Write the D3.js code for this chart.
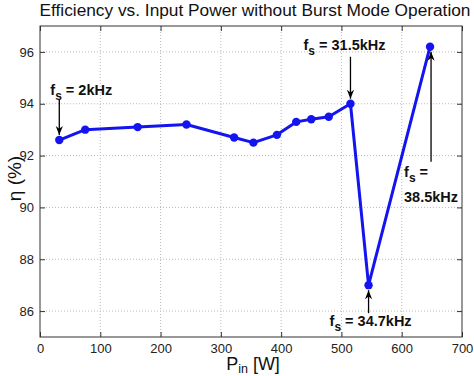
<!DOCTYPE html>
<html>
<head>
<meta charset="utf-8">
<script src="https://cdn.jsdelivr.net/npm/d3@7"></script>
<style>
  body { margin: 0; background: #fff; }
  svg text { font-family: "Liberation Sans", Arial, sans-serif; }
</style>
</head>
<body>
<div id="chart"></div>
<script>
// ── Data ────────────────────────────────────────
const P_IN = [32, 75, 162, 243, 322, 354, 393, 425, 450, 479, 515, 545, 647];
const ETA  = [92.6, 93.0, 93.1, 93.2, 92.7, 92.5, 92.8, 93.3, 93.4, 93.5, 94.0, 87.0, 96.2];
const X_TICKS = [0, 100, 200, 300, 400, 500, 600, 700];
const Y_TICKS = [86, 88, 90, 92, 94, 96];
// annotations: index of point, label frequency
const NOTES = [
  { i: 0,  f: "2kHz" },
  { i: 10, f: "31.5kHz" },
  { i: 11, f: "34.7kHz" },
  { i: 12, f: "38.5kHz" }
];

(function () {
  const W = 474, H = 376;
  const margin = { top: 26, right: 12, bottom: 39, left: 40 };
  const width  = W - margin.left - margin.right;
  const height = H - margin.top - margin.bottom;

  const svg = d3.select("#chart").append("svg")
    .attr("width", W).attr("height", H);

  const g = svg.append("g")
    .attr("transform", `translate(${margin.left},${margin.top})`);

  const x = d3.scaleLinear().domain([0, 700]).range([0, width]);
  const y = d3.scaleLinear().domain([85, 97]).range([height, 0]);

  // ── Grid (dotted) ─────────────────────────────
  g.append("g").selectAll("line").data(X_TICKS.slice(1, -1)).join("line")
    .attr("x1", d => x(d)).attr("x2", d => x(d))
    .attr("y1", 0).attr("y2", height)
    .attr("stroke", "#bbb").attr("stroke-dasharray", "1,2");
  g.append("g").selectAll("line").data(Y_TICKS).join("line")
    .attr("x1", 0).attr("x2", width)
    .attr("y1", d => y(d)).attr("y2", d => y(d))
    .attr("stroke", "#bbb").attr("stroke-dasharray", "1,2");

  // ── Axes (matlab-style inner ticks) ───────────
  const styleAxis = sel => {
    sel.select(".domain").remove();
    sel.selectAll(".tick line").attr("stroke", "#333");
    sel.selectAll("text").attr("font-size", "13px").attr("fill", "#222")
      .attr("font-family", "'Liberation Sans', Arial, sans-serif");
  };
  g.append("g").attr("transform", `translate(0,${height})`)
    .call(d3.axisBottom(x).tickValues(X_TICKS).tickSizeInner(-5).tickSizeOuter(0).tickPadding(7))
    .call(styleAxis);
  g.append("g")
    .call(d3.axisTop(x).tickValues(X_TICKS).tickSizeInner(-5).tickSizeOuter(0).tickFormat(""))
    .call(styleAxis);
  g.append("g")
    .call(d3.axisLeft(y).tickValues(Y_TICKS).tickSizeInner(-5).tickSizeOuter(0).tickPadding(6))
    .call(styleAxis);
  g.append("g").attr("transform", `translate(${width},0)`)
    .call(d3.axisRight(y).tickValues(Y_TICKS).tickSizeInner(-5).tickSizeOuter(0).tickFormat(""))
    .call(styleAxis);

  g.append("rect").attr("width", width).attr("height", height)
    .attr("fill", "none").attr("stroke", "#333").attr("stroke-width", 1);

  // ── Line + markers ────────────────────────────
  const data = P_IN.map((p, i) => ({ p, e: ETA[i] }));
  g.append("path").datum(data)
    .attr("fill", "none").attr("stroke", "#1414f0").attr("stroke-width", 3)
    .attr("stroke-linejoin", "round")
    .attr("d", d3.line().x(d => x(d.p)).y(d => y(d.e)));
  g.selectAll(".dot").data(data).join("circle")
    .attr("cx", d => x(d.p)).attr("cy", d => y(d.e)).attr("r", 4.2)
    .attr("fill", "#1414f0");

  // ── Annotations ───────────────────────────────
  svg.append("defs").append("marker")
    .attr("id", "arr").attr("viewBox", "0 0 10 10")
    .attr("refX", 10).attr("refY", 5)
    .attr("markerWidth", 10).attr("markerHeight", 9)
    .attr("markerUnits", "userSpaceOnUse")
    .attr("orient", "auto")
    .append("path").attr("d", "M0,1 L10,5 L0,9 L3,5 Z").attr("fill", "#000");

  const arrow = (x0, y0, x1, y1) => g.append("line")
    .attr("x1", x0).attr("y1", y0).attr("x2", x1).attr("y2", y1)
    .attr("stroke", "#000").attr("stroke-width", 1.3)
    .attr("marker-end", "url(#arr)");

  const FS = "14.5px";
  const fsLabel = (tx, ty, rest) => {
    const t = g.append("text").attr("x", tx).attr("y", ty)
      .attr("font-size", FS).attr("font-weight", "bold").attr("fill", "#111");
    t.append("tspan").text("f");
    t.append("tspan").attr("dy", 5).attr("font-size", "12px").text("s");
    t.append("tspan").attr("dy", -5).text(rest);
    return t;
  };

  NOTES.forEach(n => {
    const px = x(P_IN[n.i]), py = y(ETA[n.i]);
    if (n.i === 0) {
      fsLabel(px - 9, py - 45, " = " + n.f);
      arrow(px, py - 40, px, py - 5);
    } else if (n.i === 10) {
      fsLabel(px - 47, py - 54, " = " + n.f);
      arrow(px, py - 47, px, py - 5);
    } else if (n.i === 11) {
      fsLabel(px - 39, py + 41, " = " + n.f);
      arrow(px, py + 28, px, py + 5);
    } else {
      fsLabel(px - 26, py + 130, " =");
      g.append("text").attr("x", px - 26).attr("y", py + 155)
        .attr("font-size", FS).attr("font-weight", "bold").attr("fill", "#111")
        .text(n.f);
      arrow(px + 1, py + 115, px + 1, py + 5);
    }
  });

  // ── Titles ────────────────────────────────────
  svg.append("text").attr("x", 255).attr("y", 16)
    .attr("text-anchor", "middle").attr("font-size", "17.3px").attr("fill", "#111")
    .text("Efficiency vs. Input Power without Burst Mode Operation");

  const xl = svg.append("text").attr("x", margin.left + width / 2 + 2).attr("y", 370)
    .attr("text-anchor", "middle").attr("font-size", "18px").attr("fill", "#111");
  xl.append("tspan").text("P");
  xl.append("tspan").attr("dy", 3).attr("font-size", "12.5px").text("in");
  xl.append("tspan").attr("dy", -3).text(" [W]");

  svg.append("text")
    .attr("transform", `translate(21,${margin.top + height / 2 - 3}) rotate(-90)`)
    .attr("text-anchor", "middle").attr("font-size", "19px").attr("fill", "#111")
    .text("η (%)");
})();
</script>
</body>
</html>
